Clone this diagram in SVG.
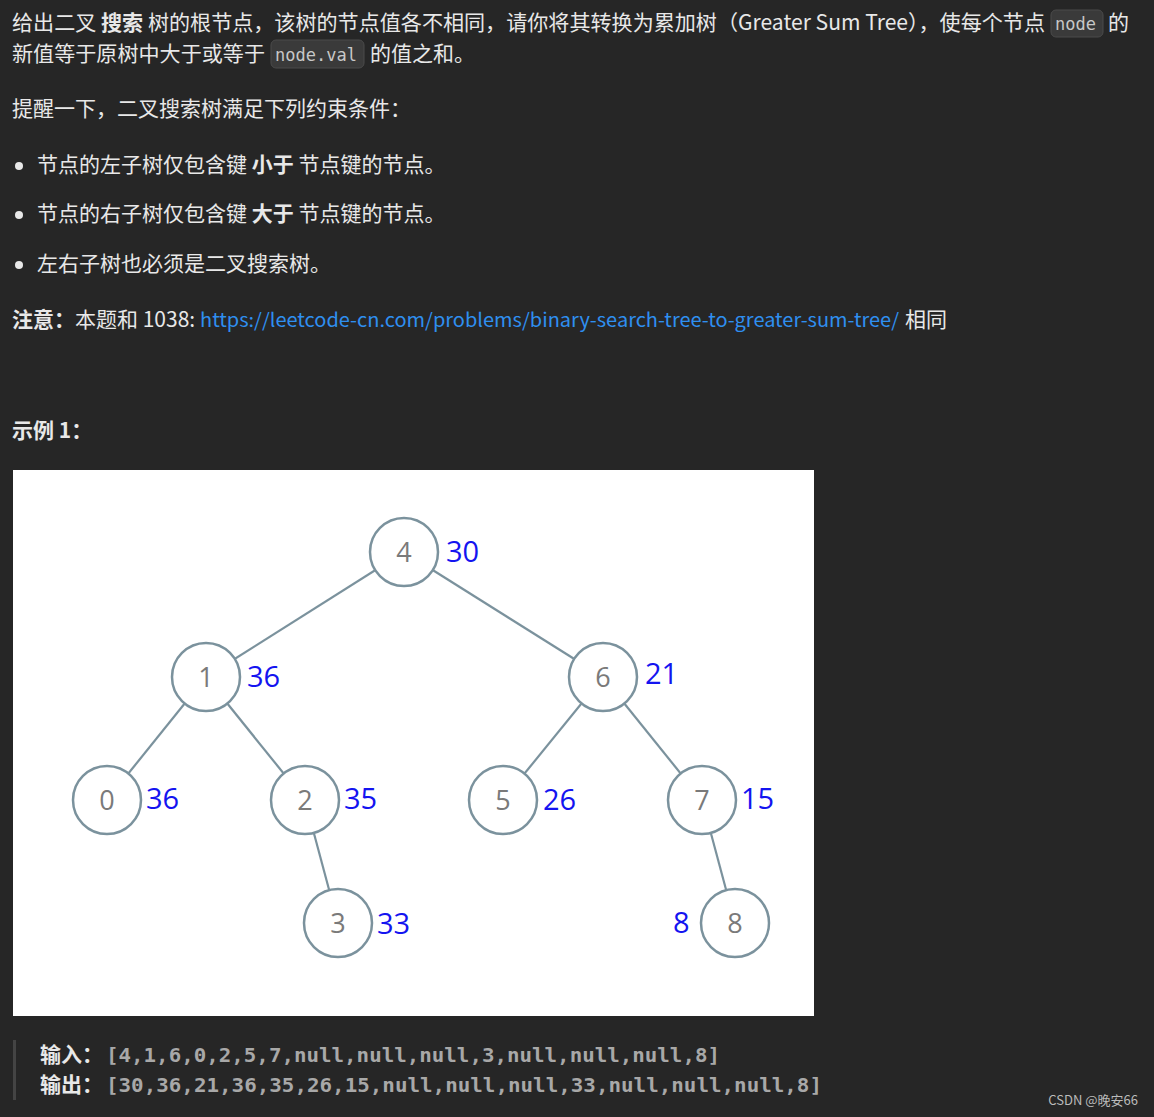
<svg xmlns="http://www.w3.org/2000/svg" width="1154" height="1117" viewBox="0 0 1154 1117">
<style>
.t{font-family:"Noto Sans CJK SC","Noto Sans",sans-serif;font-size:21px;fill:#e8e8e8}
.b{font-weight:bold}
.code{font-family:"DejaVu Sans Mono",monospace;font-size:17px;fill:#c8c8c8}
.chip{fill:#3a3a3a;stroke:#4a4a4a;stroke-width:1}
.n circle{fill:#fff;stroke:#7b929d;stroke-width:2.5}
.n text{font-family:"Open Sans",sans-serif;font-size:27px;fill:#7a7a7a;text-anchor:middle}
.v{font-family:"Open Sans",sans-serif;font-size:29px;fill:#1414f0}
.e line{stroke:#7b929d;stroke-width:2.2}
.m{font-family:"DejaVu Sans Mono",monospace;font-size:20px;font-weight:bold;fill:#a8a8a8}
</style>
<rect width="1154" height="1117" fill="#262626"/>
<rect class="chip" x="1051" y="10" width="52" height="27" rx="5"/>
<rect class="chip" x="271" y="40" width="93" height="28" rx="5"/>
<text class="t" x="12" y="30" textLength="1033" lengthAdjust="spacingAndGlyphs">给出二叉 <tspan class="b">搜索</tspan> 树的根节点，该树的节点值各不相同，请你将其转换为累加树（Greater Sum Tree），使每个节点</text>
<text class="code" x="1055" y="30">node</text>
<text class="t" x="1108" y="30">的</text>
<text class="t" x="12" y="61" textLength="253" lengthAdjust="spacingAndGlyphs">新值等于原树中大于或等于</text>
<text class="code" x="275" y="61">node.val</text>
<text class="t" x="370" y="61">的值之和。</text>
<text class="t" x="12" y="116">提醒一下，二叉搜索树满足下列约束条件：</text>
<circle cx="19" cy="166" r="4" fill="#e8e8e8"/>
<circle cx="19" cy="215" r="4" fill="#e8e8e8"/>
<circle cx="19" cy="265" r="4" fill="#e8e8e8"/>
<text class="t" x="37" y="172">节点的左子树仅包含键 <tspan class="b">小于</tspan> 节点键的节点。</text>
<text class="t" x="37" y="221">节点的右子树仅包含键 <tspan class="b">大于</tspan> 节点键的节点。</text>
<text class="t" x="37" y="271">左右子树也必须是二叉搜索树。</text>
<text class="t" x="12" y="327"><tspan class="b">注意：</tspan>本题和 1038:</text>
<text class="t" x="200" y="327" style="fill:#2f8ff0;font-size:19px" textLength="699" lengthAdjust="spacingAndGlyphs">https://leetcode-cn.com/problems/binary-search-tree-to-greater-sum-tree/</text>
<text class="t" x="905" y="327">相同</text>
<text class="t b" x="12" y="438">示例 1：</text>
<rect x="13" y="470" width="801" height="546" fill="#fff"/>
<g class="e" id="connectors">
<line x1="404" y1="552" x2="206" y2="677"/>
<line x1="404" y1="552" x2="603" y2="677"/>
<line x1="206" y1="677" x2="107" y2="800"/>
<line x1="206" y1="677" x2="305" y2="800"/>
<line x1="603" y1="677" x2="503" y2="800"/>
<line x1="603" y1="677" x2="702" y2="800"/>
<line x1="305" y1="800" x2="338" y2="923"/>
<line x1="702" y1="800" x2="735" y2="923"/>
</g>
<g class="n" id="n4"><circle cx="404" cy="552" r="34"/><text x="404" y="562">4</text></g>
<g class="n" id="n1"><circle cx="206" cy="677" r="34"/><text x="206" y="687">1</text></g>
<g class="n" id="n6"><circle cx="603" cy="677" r="34"/><text x="603" y="687">6</text></g>
<g class="n" id="n0"><circle cx="107" cy="800" r="34"/><text x="107" y="810">0</text></g>
<g class="n" id="n2"><circle cx="305" cy="800" r="34"/><text x="305" y="810">2</text></g>
<g class="n" id="n5"><circle cx="503" cy="800" r="34"/><text x="503" y="810">5</text></g>
<g class="n" id="n7"><circle cx="702" cy="800" r="34"/><text x="702" y="810">7</text></g>
<g class="n" id="n3"><circle cx="338" cy="923" r="34"/><text x="338" y="933">3</text></g>
<g class="n" id="n8"><circle cx="735" cy="923" r="34"/><text x="735" y="933">8</text></g>
<text class="v" x="446" y="562">30</text>
<text class="v" x="247" y="687">36</text>
<text class="v" x="645" y="684">21</text>
<text class="v" x="146" y="809">36</text>
<text class="v" x="344" y="809">35</text>
<text class="v" x="543" y="810">26</text>
<text class="v" x="741" y="809">15</text>
<text class="v" x="377" y="934">33</text>
<text class="v" x="673" y="933">8</text>
<rect x="13" y="1040" width="3" height="60" fill="#444"/>
<text class="t b" x="40" y="1062">输入：</text>
<text class="m" x="106" y="1062" textLength="614" lengthAdjust="spacingAndGlyphs">[4,1,6,0,2,5,7,null,null,null,3,null,null,null,8]</text>
<text class="t b" x="40" y="1092">输出：</text>
<text class="m" x="106" y="1092" textLength="716" lengthAdjust="spacingAndGlyphs">[30,36,21,36,35,26,15,null,null,null,33,null,null,null,8]</text>
<text x="1138" y="1105" text-anchor="end" font-family="Noto Sans CJK SC,sans-serif" font-size="13" fill="#bbb">CSDN @晚安66</text>
</svg>
